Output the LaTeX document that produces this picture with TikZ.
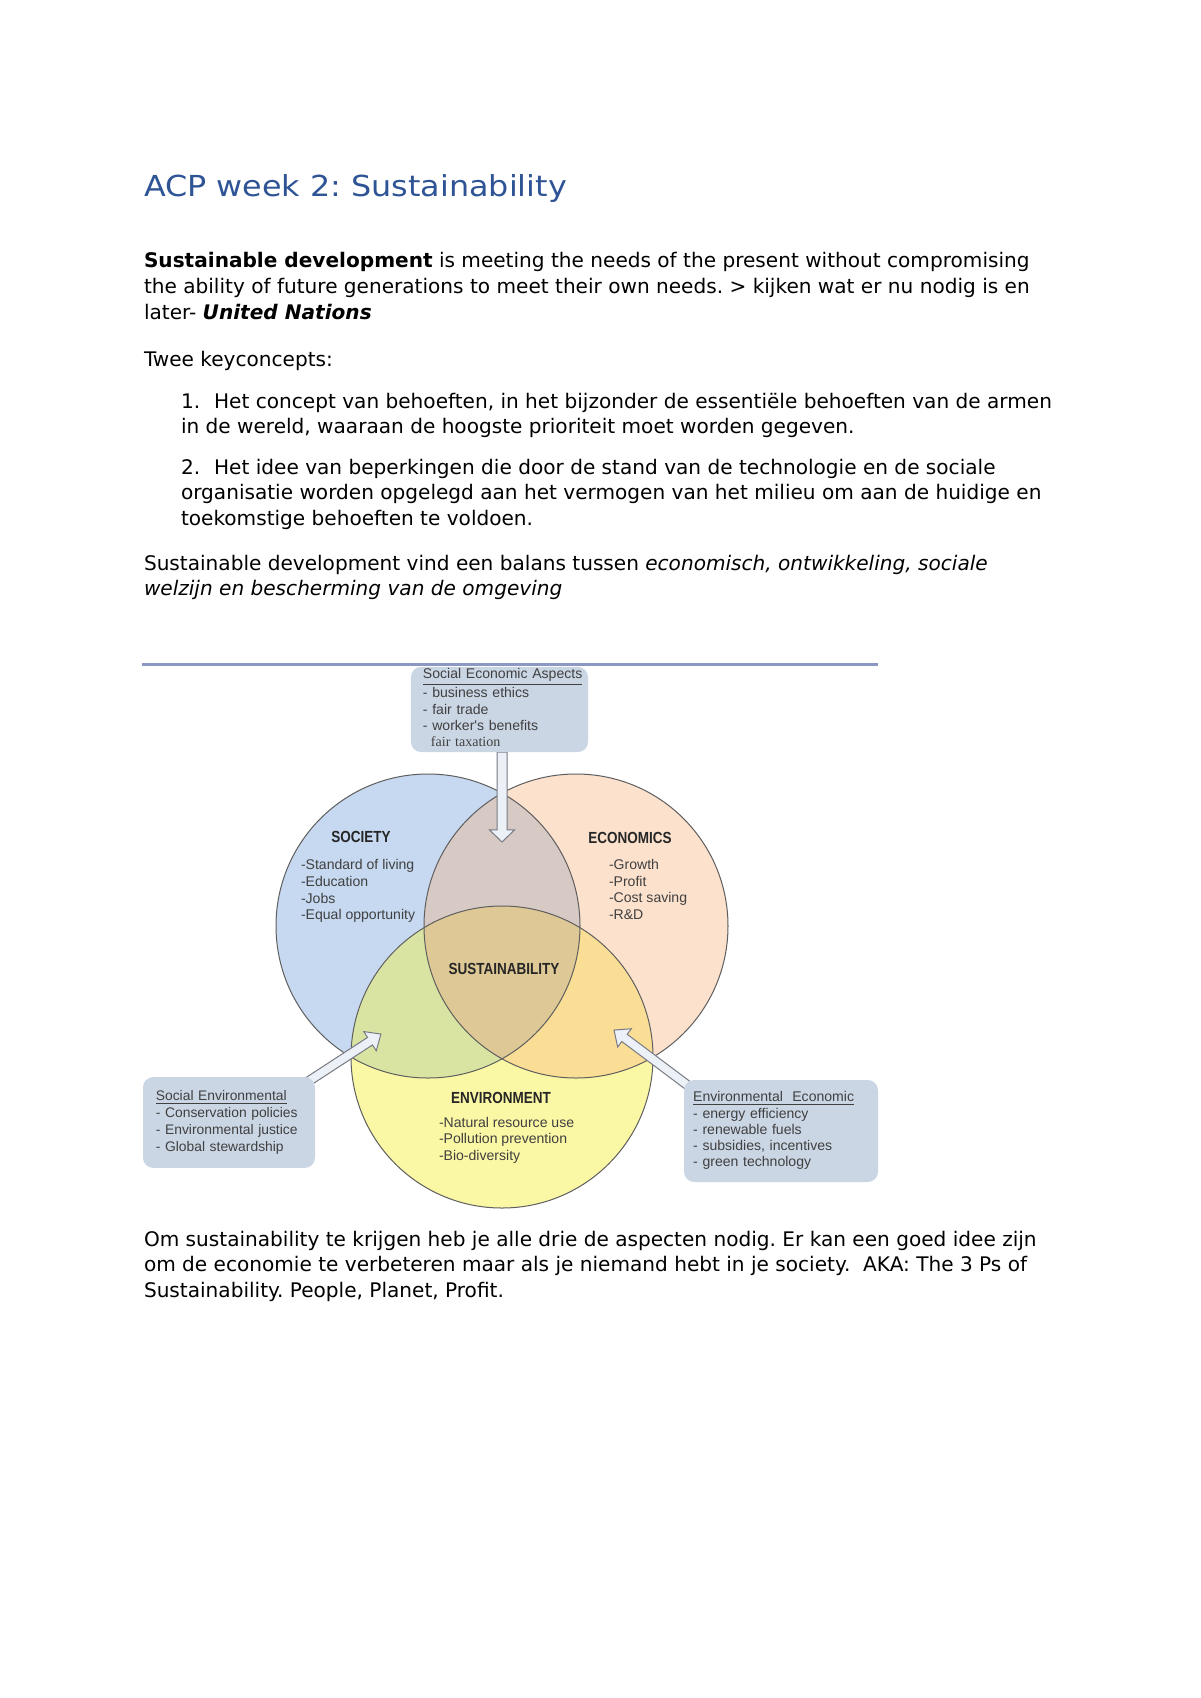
\documentclass[tikz,border=0pt]{standalone}
\usepackage{fontspec}
\setmainfont{DejaVu Sans}
\newfontfamily\titlefont[FakeStretch=1.1]{DejaVu Sans}
\newfontfamily\diagfont{Liberation Sans}
\newfontfamily\diagheadfont[FakeStretch=0.84]{Liberation Sans}
\newfontfamily\seriffont{Liberation Serif}
\usepackage{xcolor}
\usetikzlibrary{arrows.meta,positioning,calc,backgrounds}
\frenchspacing

\definecolor{headblue}{RGB}{47,84,150}
\definecolor{rulecol}{RGB}{140,152,196}
\definecolor{boxfill}{RGB}{203,214,229}
\definecolor{socfill}{RGB}{198,217,240}
\definecolor{ecofill}{RGB}{252,225,205}
\definecolor{envfill}{RGB}{250,247,165}
\definecolor{socecofill}{RGB}{215,201,196}
\definecolor{socenvfill}{RGB}{218,228,162}
\definecolor{ecoenvfill}{RGB}{250,222,150}
\definecolor{allfill}{RGB}{222,201,150}
\definecolor{edgegray}{RGB}{95,95,95}
\definecolor{arrowedge}{RGB}{120,122,132}
\definecolor{arrowfill}{RGB}{236,240,247}

% hollow block arrow: tail, tip, shaft half width, head half width, head length (pt)
\newcommand{\hollowarrow}[5]{%
  \draw[hollow] let \p1=($(#2)-(#1)$), \n1={atan2(\y1,\x1)}, \n2={veclen(\x1,\y1)} in
    [shift={(#1)}, rotate=\n1]
    (0pt,#3pt) -- ({(\n2-#5)*1pt},#3pt) -- ({(\n2-#5)*1pt},#4pt) -- ({\n2*1pt},0pt)
    -- ({(\n2-#5)*1pt},-#4pt) -- ({(\n2-#5)*1pt},-#3pt) -- (0pt,-#3pt) -- cycle;
}

\begin{document}
\begin{tikzpicture}[x=0.175mm, y=-0.175mm,
  every node/.style={inner sep=0pt, outer sep=0pt},
  bodytext/.style={anchor=north west, align=left, font=\fontsize{10}{12.94}\selectfont},
  infobox/.style={rounded corners=1.8mm, fill=boxfill, align=left, inner ysep=0pt, text=black!75},
  circhead/.style={font=\diagheadfont\bfseries\fontsize{8}{9}\selectfont, text=black!85},
  circlist/.style={anchor=west, align=left, font=\diagfont\fontsize{7}{8.3}\selectfont, text=black!75},
  circedge/.style={draw=edgegray, line width=0.5pt},
  hollow/.style={draw=arrowedge, fill=arrowfill, line width=0.5pt, line join=miter}
]
\useasboundingbox (0,0) rectangle (1200,1698);

% Page text
\node[anchor=base west, font=\titlefont\fontsize{14.4}{17}\selectfont, text=headblue] (title) at (144,196) {ACP week 2: Sustainability};
\node[bodytext] (defPara) at (144,249.8) {\strut\textbf{Sustainable development} is meeting the needs of the present without compromising\\the ability of future generations to meet their own needs. > kijken wat er nu nodig is en\\later- \textbf{\textit{United Nations}}};
\node[anchor=base west, font=\fontsize{10}{12.94}\selectfont] (keyHead) at (144,366) {Twee keyconcepts:};
\node[bodytext] (conceptOne) at (181,389.8) {\strut\makebox[5.8mm][l]{1.}Het concept van behoeften, in het bijzonder de essentiële behoeften van de armen\\in de wereld, waaraan de hoogste prioriteit moet worden gegeven.};
\node[bodytext] (conceptTwo) at (181,455.8) {\strut\makebox[5.8mm][l]{2.}Het idee van beperkingen die door de stand van de technologie en de sociale\\organisatie worden opgelegd aan het vermogen van het milieu om aan de huidige en\\toekomstige behoeften te voldoen.};
\node[bodytext] (balance) at (144,551.8) {\strut Sustainable development vind een balans tussen \textit{economisch, ontwikkeling, sociale}\\\textit{welzijn en bescherming van de omgeving}};
\node[bodytext] (conclusion) at (144,1227.8) {\strut Om sustainability te krijgen heb je alle drie de aspecten nodig. Er kan een goed idee zijn\\om de economie te verbeteren maar als je niemand hebt in je society.\ \ AKA: The 3 Ps of\\Sustainability. People, Planet, Profit.};

% Rule above the diagram
\draw[rulecol, line width=1.5pt] (142,664) -- (878,664);

% Circle centres and arrow tips
\coordinate (socC) at (428,926);
\coordinate (ecoC) at (576,926);
\coordinate (envC) at (502,1057);
\coordinate (topTip) at (502,842);
\coordinate (leftTip) at (381,1034);
\coordinate (rightTip) at (614,1030);

% Aspect boxes
\node[infobox, minimum width=31mm, minimum height=14.9mm, text width=26.8mm, inner xsep=2.1mm,
  font=\diagfont\fontsize{7}{8.1}\selectfont] (socecoBox) at (499.5,709.5)
  {\strut\underline{Social Economic Aspects}\\- business ethics\\- fair trade\\- worker's benefits\\\hspace*{1.4mm}{\seriffont fair taxation}\strut};
\node[infobox, minimum width=30.1mm, minimum height=15.9mm, text width=25.6mm, inner xsep=2.25mm,
  font=\diagfont\fontsize{6.9}{8.4}\selectfont] (socenvBox) at (229,1122.5)
  {\strut\underline{Social Environmental}\\- Conservation policies\\- Environmental justice\\- Global stewardship\strut};
\node[infobox, minimum width=33.95mm, minimum height=17.85mm, text width=30.75mm, inner xsep=1.6mm,
  font=\diagfont\fontsize{7}{8.1}\selectfont] (envecoBox) at (781,1131)
  {\strut\underline{Environmental\ \ Economic}\\- energy efficiency\\- renewable fuels\\- subsidies, incentives\\- green technology\strut};

% Venn circles
\begin{scope}[on background layer]
  \fill[white] (0,0) rectangle (1200,1698);
  \fill[socfill] (socC) circle[radius=152];
  \fill[ecofill] (ecoC) circle[radius=152];
  \fill[envfill] (envC) circle[radius=151];
  \begin{scope}
    \clip (ecoC) circle[radius=152];
    \fill[ecoenvfill] (envC) circle[radius=151];
  \end{scope}
  \begin{scope}
    \clip (socC) circle[radius=152];
    \fill[socecofill] (ecoC) circle[radius=152];
    \fill[socenvfill] (envC) circle[radius=151];
    \clip (ecoC) circle[radius=152];
    \fill[allfill] (envC) circle[radius=151];
  \end{scope}
  \draw[circedge] (socC) circle[radius=152];
  \draw[circedge] (ecoC) circle[radius=152];
  \draw[circedge] (envC) circle[radius=151];
  % Arrows into the overlaps
  \hollowarrow{socecoBox.south -| topTip}{topTip}{2.49}{6.2}{6}
  \hollowarrow{$(socenvBox.north east)+(-20,13)$}{leftTip}{2.24}{5.7}{6.5}
  \hollowarrow{$(envecoBox.north west)+(26,22)$}{rightTip}{2.24}{5.7}{6.5}
\end{scope}

% Circle labels
\node[circhead] (socTitle) at (361,837) {SOCIETY};
\node[circlist] (socList) at (301,891.5) {\strut-Standard of living\\-Education\\-Jobs\\-Equal opportunity\strut};
\node[circhead] (ecoTitle) at (630,838) {ECONOMICS};
\node[circlist] (ecoList) at (609,891) {\strut-Growth\\-Profit\\-Cost saving\\-R\&D\strut};
\node[circhead] (susTitle) at (504,969) {SUSTAINABILITY};
\node[circhead] (envTitle) at (501,1098) {ENVIRONMENT};
\node[circlist] (envList) at (439,1140.5) {\strut-Natural resource use\\-Pollution prevention\\-Bio-diversity\strut};
\end{tikzpicture}
\end{document}
